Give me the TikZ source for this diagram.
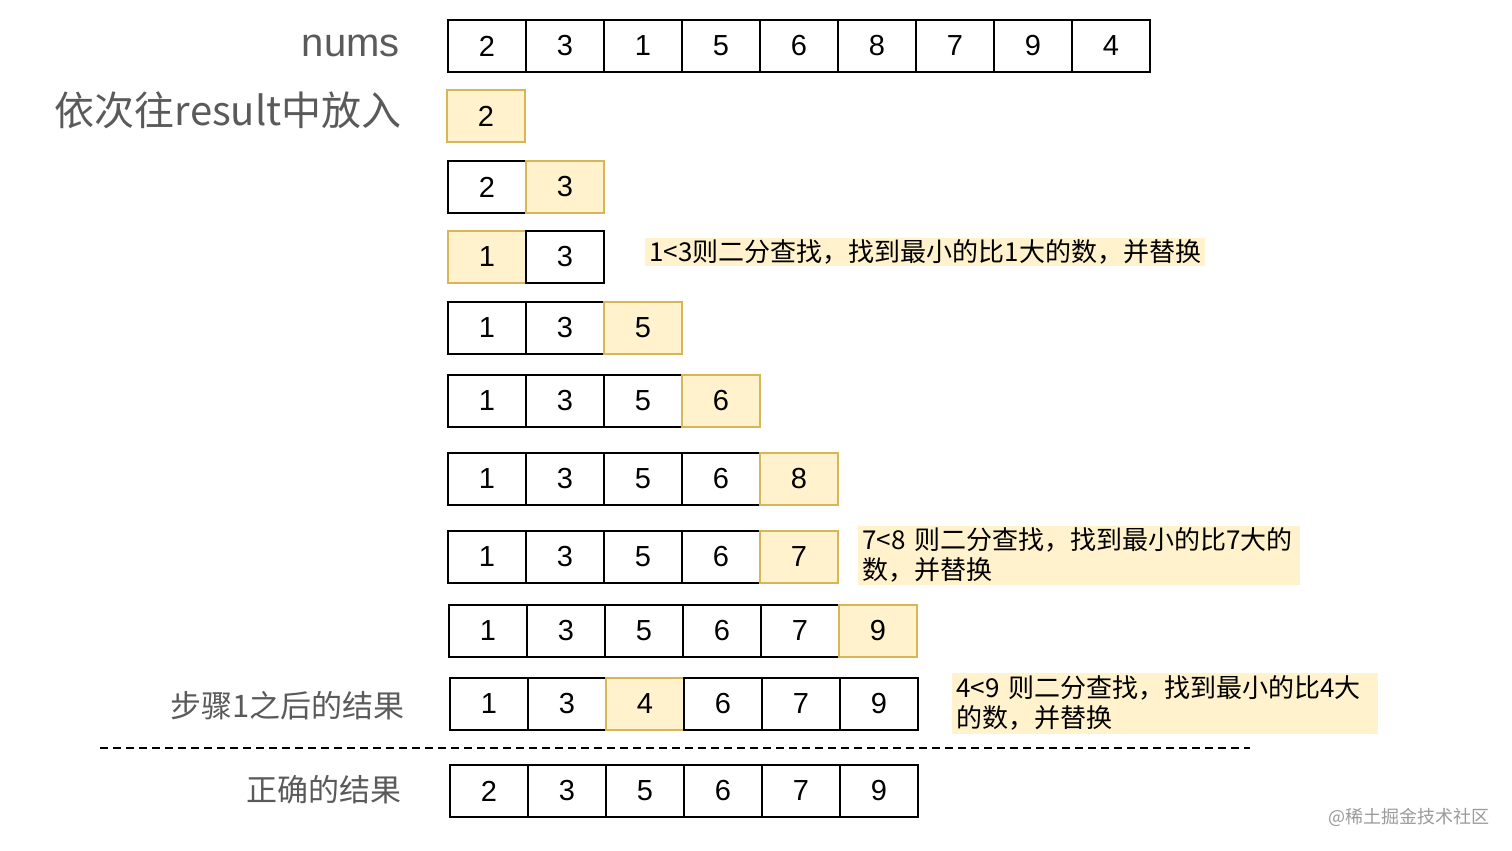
\documentclass[tikz,border=0pt]{standalone}
\usepackage{fontspec}
\setmainfont{Liberation Sans}
\newfontfamily\cjk{Noto Sans CJK SC}
\usetikzlibrary{calc}
\definecolor{yl}{HTML}{FFF2CC}
\definecolor{yld}{HTML}{D6B656}
\definecolor{lbl}{HTML}{5A5A5A}
\definecolor{wm}{HTML}{9A9A9A}
\tikzset{
  cell/.style={draw=black, fill=white, line width=1pt, minimum width=39pt, minimum height=26pt,
    inner sep=0pt, outer sep=0pt, font=\fontsize{14.5}{16}\selectfont},
  hl/.style={cell, draw=yld, fill=yl},
  leftlbl/.style={anchor=east, text=lbl, inner sep=0pt, font=\cjk\fontsize{20}{24}\selectfont},
  leftlbls/.style={anchor=east, text=lbl, inner sep=0pt, font=\cjk\fontsize{15.5}{18}\selectfont},
  annot/.style={fill=yl, inner xsep=2pt, inner ysep=0pt, align=left, anchor=west,
    font=\cjk\fontsize{13}{15}\selectfont},
  dashline/.style={draw=black, line width=1pt, dash pattern=on 4pt off 2.5pt},
}
\newcommand\cellrow[5]{%
  \foreach \v [count=\i] in {#4} {%
    \ifnum\i=#5\relax \tikzset{cur/.style=hl}\else\tikzset{cur/.style=cell}\fi
    \node[cur] (#1c\i) at (#2+39+78*\i-78, #3) {\v};
  }%
}
\begin{document}
\begin{tikzpicture}[x=0.5pt, y=-0.5pt]
\useasboundingbox (0,0) rectangle (1512,851);
% labels
\node[leftlbl, font=\fontsize{20}{24}\selectfont] (lnums) at (400,46) {nums};
\node[leftlbl] (lput) at (402,110) {依次往result中放入};
\node[leftlbls] (lstep) at (405,706) {步骤1之后的结果};
\node[leftlbls] (lok) at (402,790) {正确的结果};
% rows
\cellrow{r0}{448}{46}{2,3,1,5,6,8,7,9,4}{0}
\cellrow{r1}{447}{116}{2}{1}
\cellrow{r2}{448}{187}{2,3}{2}
\cellrow{r3}{448}{257}{1,3}{1}
\cellrow{r4}{448}{328}{1,3,5}{3}
\cellrow{r5}{448}{401}{1,3,5,6}{4}
\cellrow{r6}{448}{479}{1,3,5,6,8}{5}
\cellrow{r7}{448}{557}{1,3,5,6,7}{5}
\cellrow{r8}{449}{631}{1,3,5,6,7,9}{6}
\cellrow{r9}{450}{704}{1,3,4,6,7,9}{3}
\cellrow{r10}{450}{791}{2,3,5,6,7,9}{0}
% annotations
\node[annot, minimum width=277.5pt, minimum height=14pt] (a1) at (645,252) {1<3则二分查找，找到最小的比1大的数，并替换};
\node[annot, text width=217pt, minimum height=29.5pt] (a2) at (858,555) {7<8 则二分查找，找到最小的比7大的\\数，并替换};
\node[annot, text width=209pt, minimum height=30.5pt] (a3) at (952,703) {4<9 则二分查找，找到最小的比4大\\的数，并替换};
% dashed separator
\coordinate (dl) at (100,748);
\coordinate (dr) at (1250,748);
\draw[dashline] (dl) -- (dr);
% watermark
\node[anchor=east, text=wm, inner sep=0pt, font=\cjk\fontsize{9}{11}\selectfont] (wmk) at (1490,817) {@稀土掘金技术社区};
\end{tikzpicture}
\end{document}
